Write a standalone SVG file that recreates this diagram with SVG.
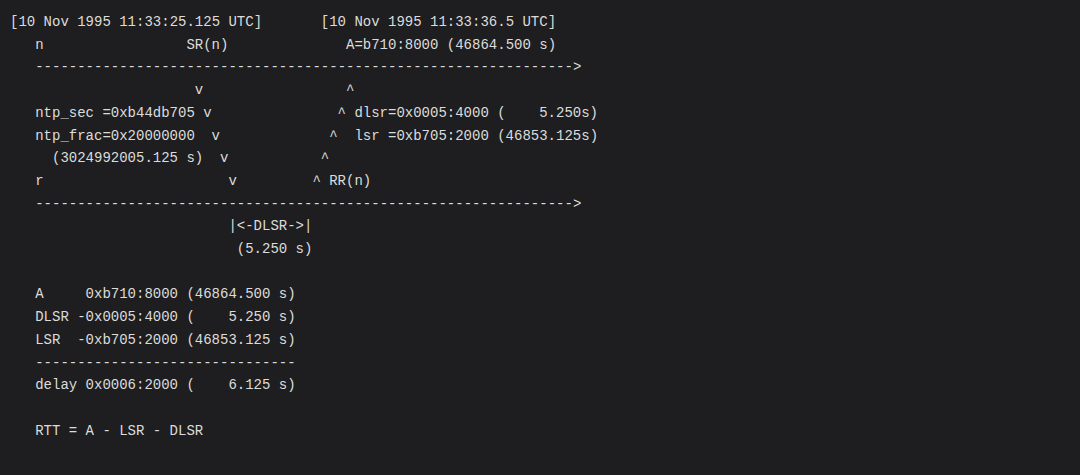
<svg xmlns="http://www.w3.org/2000/svg" width="1080" height="475" viewBox="0 0 1080 475">
<style>
.t{font-family:"Liberation Mono","Courier New",monospace;font-size:14px;fill:#dcdcdc}
</style>
<rect width="1080" height="475" fill="#1e1e20"/>
<g id="listing" class="t">
<text x="10" y="26">[10 Nov 1995 11:33:25.125 UTC]</text>
<text x="320.8" y="26">[10 Nov 1995 11:33:36.5 UTC]</text>
<text x="35.2" y="48.7">n</text>
<text x="186.4" y="48.7">SR(n)</text>
<text x="346" y="48.7">A=b710:8000 (46864.500 s)</text>
<text x="35.2" y="71.4">----------------------------------------------------------------&gt;</text>
<text x="194.8" y="94.1">v</text>
<text x="346" y="94.1">^</text>
<text x="35.2" y="116.8">ntp_sec =0xb44db705 v</text>
<text x="337.6" y="116.8">^ dlsr=0x0005:4000 (</text>
<text x="539.2" y="116.8">5.250s)</text>
<text x="35.2" y="139.5">ntp_frac=0x20000000</text>
<text x="211.6" y="139.5">v</text>
<text x="329.2" y="139.5">^</text>
<text x="354.4" y="139.5">lsr =0xb705:2000 (46853.125s)</text>
<text x="52" y="162.2">(3024992005.125 s)</text>
<text x="220" y="162.2">v</text>
<text x="320.8" y="162.2">^</text>
<text x="35.2" y="184.9">r</text>
<text x="228.4" y="184.9">v</text>
<text x="312.4" y="184.9">^ RR(n)</text>
<text x="35.2" y="207.6">----------------------------------------------------------------&gt;</text>
<text x="228.4" y="230.3">|&lt;-DLSR-&gt;|</text>
<text x="236.8" y="253">(5.250 s)</text>
<text x="35.2" y="298.4">A</text>
<text x="85.6" y="298.4">0xb710:8000 (46864.500 s)</text>
<text x="35.2" y="321.1">DLSR -0x0005:4000 (</text>
<text x="228.4" y="321.1">5.250 s)</text>
<text x="35.2" y="343.8">LSR</text>
<text x="77.2" y="343.8">-0xb705:2000 (46853.125 s)</text>
<text x="35.2" y="366.5">-------------------------------</text>
<text x="35.2" y="389.2">delay 0x0006:2000 (</text>
<text x="228.4" y="389.2">6.125 s)</text>
<text x="35.2" y="434.6">RTT = A - LSR - DLSR</text>
</g>
</svg>
